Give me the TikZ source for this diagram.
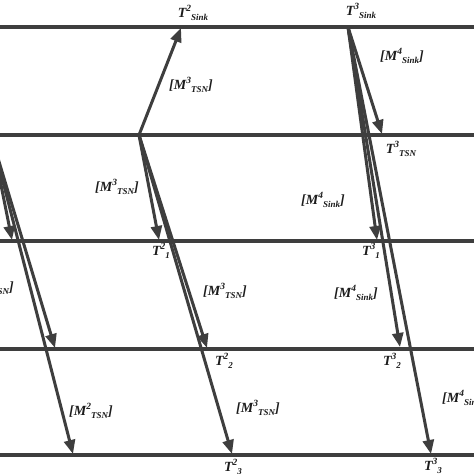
\documentclass[tikz,border=0pt]{standalone}
\usepackage{fontspec}
\setmainfont{Liberation Serif}
\usetikzlibrary{arrows.meta}
\definecolor{ln}{RGB}{62,62,62}
\definecolor{tx}{RGB}{28,28,28}
\newcommand\lab[3]{#1\raisebox{5.5pt}{\fontsize{9.5}{9.5}\selectfont #2}\raisebox{-3.5pt}{\fontsize{9}{9}\selectfont #3}}
\tikzset{
  hline/.style={draw=ln, line width=3.3pt},
  msg/.style={draw=ln, line width=3pt, -{Triangle[length=14pt,width=11pt]}},
  lbl/.style={text=tx, font=\fontsize{14}{14}\selectfont\bfseries\itshape, inner sep=0pt}
}
\begin{document}
\begin{tikzpicture}[x=1pt,y=-1pt]
\useasboundingbox (0,0) rectangle (474,474);
\fill[white] (0,0) rectangle (474,474);
\clip (0,0) rectangle (474,474);
% time lines
\foreach \n/\y in {a/27,b/135,c/241,d/349,e/455}{
  \coordinate (\n W) at (-5,\y);
  \coordinate (\n E) at (479,\y);
  \draw[hline] (\n W) -- (\n E);
}
% left group
\coordinate (OL) at (-9,135);
\coordinate (L1) at (12,240);
\coordinate (L2) at (55,348);
\coordinate (L3) at (73,454);
% middle group
\coordinate (OM) at (139,135);
\coordinate (MU) at (181,28);
\coordinate (M1) at (159,240);
\coordinate (M2) at (207,348);
\coordinate (M3) at (232,454);
% right group
\coordinate (OR) at (348,27);
\coordinate (R0) at (382,134);
\coordinate (R1) at (377,240);
\coordinate (R2) at (400,347);
\coordinate (R3) at (431,454);
\draw[msg] (OL) -- (L1);
\draw[msg] (OL) -- (L2);
\draw[msg] (OL) -- (L3);
\draw[msg] (OM) -- (MU);
\draw[msg] (OM) -- (M1);
\draw[msg] (OM) -- (M2);
\draw[msg] (OM) -- (M3);
\draw[msg] (OR) -- (R0);
\draw[msg] (OR) -- (R1);
\draw[msg] (OR) -- (R2);
\draw[msg] (OR) -- (R3);
% labels
\node[lbl] (t1) at (193,13) {\lab{T}{2}{Sink}};
\node[lbl] (t2) at (191,85) {\lab{[M}{3}{TSN}]};
\node[lbl] (t3) at (361,11) {\lab{T}{3}{Sink}};
\node[lbl] (t4) at (402,56) {\lab{[M}{4}{Sink}]};
\node[lbl] (t5) at (401,149) {\lab{T}{3}{TSN}};
\node[lbl] (t6) at (117,187) {\lab{[M}{3}{TSN}]};
\node[lbl] (t7) at (323,200) {\lab{[M}{4}{Sink}]};
\node[lbl] (t8) at (161,251) {\lab{T}{2}{1}};
\node[lbl] (t9) at (371,251) {\lab{T}{3}{1}};
\node[lbl] (t10) at (-8,287) {\lab{[M}{2}{TSN}]};
\node[lbl] (t11) at (225,291) {\lab{[M}{3}{TSN}]};
\node[lbl] (t12) at (356,293) {\lab{[M}{4}{Sink}]};
\node[lbl] (t13) at (224,361) {\lab{T}{2}{2}};
\node[lbl] (t14) at (392,361) {\lab{T}{3}{2}};
\node[lbl] (t15) at (91,411) {\lab{[M}{2}{TSN}]};
\node[lbl] (t16) at (258,408) {\lab{[M}{3}{TSN}]};
\node[lbl] (t17) at (464,398) {\lab{[M}{4}{Sink}]};
\node[lbl] (t18) at (233,467) {\lab{T}{2}{3}};
\node[lbl] (t19) at (433,466) {\lab{T}{3}{3}};
\end{tikzpicture}
\end{document}
